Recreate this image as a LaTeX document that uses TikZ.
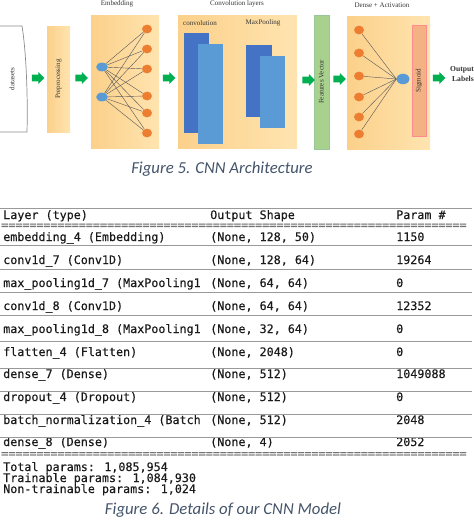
\documentclass[tikz,border=0pt]{standalone}
\usepackage{fontspec}
\setmainfont{Liberation Serif}
\setmonofont{DejaVu Sans Mono}
\newfontfamily\capfont{Carlito}
\newfontfamily\tabfont[RawFeature={embolden=0.35}]{DejaVu Sans Mono}
\usetikzlibrary{shapes.geometric,shapes.arrows}

\definecolor{boxOrange}{HTML}{FBD08A}
\definecolor{boxLight}{HTML}{FFE4B0}
\definecolor{nodeBlue}{HTML}{5B9BD5}
\definecolor{nodeOrange}{HTML}{ED7D31}
\definecolor{convDark}{HTML}{4472C4}
\definecolor{convLight}{HTML}{5B9BD5}
\definecolor{arrowGreen}{HTML}{00B050}
\definecolor{featGreen}{HTML}{A9D18E}
\definecolor{sigFill}{HTML}{F4B183}
\definecolor{capGray}{HTML}{44546A}
\definecolor{tabText}{HTML}{1A1A1A}

\begin{document}
\begin{tikzpicture}[
    x=0.03cm, y=-0.03cm, every node/.style={font=\fontsize{6}{7}\selectfont, inner sep=0pt, text=black!80},
    layerBox/.style={draw=none, left color=boxOrange, right color=boxLight},
    inNode/.style={ellipse, fill=nodeBlue, minimum width=10pt, minimum height=7.5pt},
    outNode/.style={ellipse, fill=nodeOrange, minimum width=8.5pt, minimum height=7.5pt},
    link/.style={draw=black!65, line width=0.35pt},
    convDarkBox/.style={fill=convDark, draw=none},
    convLightBox/.style={fill=convLight, draw=none},
    greenArrow/.style={single arrow, fill=arrowGreen, draw=none, inner sep=2.6pt, minimum height=10.5pt, single arrow head extend=2.3pt},
    tabRow/.style={anchor=base west, font=\tabfont\fontsize{10}{12}\selectfont, text=tabText, text height=7pt, text depth=1.6pt},
    eqRow/.style={anchor=base west, font=\tabfont\fontsize{10}{12}\selectfont, text=black!55, text height=5pt, text depth=0pt},
    tabLine/.style={draw=black!40, line width=0.8pt},
    capStyle/.style={font=\capfont\itshape\fontsize{14.3}{17}\selectfont, text=capGray}
]
    \useasboundingbox (0,0) rectangle (474,522);

    % figure 5: architecture
    \draw[fill=white, draw=black!45, line width=0.6pt] (0,26) -- (22,26) .. controls (26,50) and (28,95) .. (27,132) -- (0,132);
    \node[rotate=90] (data) at (12,79) {datasets};
    \draw[layerBox] (47,26) rectangle (70,132) node[pos=.5, rotate=90] (prep) {Preprocessing};

    \draw[layerBox] (91,15) rectangle (159,148) node[pos=.5] (embBox) {};
    \node (embLbl) at (117,4) {Embedding};
    \node[inNode] (eIn1) at (102,67) {};
    \node[inNode] (eIn2) at (102,97) {};
    \foreach \i/\y in {1/29, 2/49, 3/69, 4/96, 5/113, 6/133} {
        \node[outNode] (eOut\i) at (147,\y) {};
        \draw[link] (eIn1) -- (eOut\i);
        \draw[link] (eIn2) -- (eOut\i);
    }

    \draw[layerBox] (178,15) rectangle (297,148) node[pos=.5] (convBox) {};
    \node (convLbl) at (237,4) {Convolution layers};
    \node (convTxt) at (200,23) {convolution};
    \node (poolTxt) at (263,23) {MaxPooling};
    \draw[convDarkBox] (184,33) rectangle (209,133) node[pos=.5] (conv1) {};
    \draw[convLightBox] (198,44) rectangle (223,144) node[pos=.5] (conv2) {};
    \draw[convDarkBox] (246,45) rectangle (272,117) node[pos=.5] (pool1) {};
    \draw[convLightBox] (260,56) rectangle (285,128) node[pos=.5] (pool2) {};

    \draw[fill=featGreen, draw=green!45!black!40] (314,15) rectangle (329,149) node[pos=.5, rotate=90] (feat) {Features Vector};

    \draw[layerBox] (347,16) rectangle (430,149) node[pos=.5] (denseBox) {};
    \node (denseLbl) at (382,5) {Dense + Activation};
    \node[inNode, minimum width=11pt, minimum height=9pt] (dOut) at (403,79) {};
    \foreach \i/\y in {1/30, 2/53, 3/76, 4/97, 5/117, 6/134} {
        \node[outNode] (dIn\i) at (359,\y) {};
        \draw[link] (dIn\i) -- (dOut.west);
    }
    \draw[fill=sigFill, draw=red!45] (412,25) rectangle (426,136) node[pos=.5, rotate=90] (sig) {Sigmoid};
    \node[anchor=west, align=left, font=\bfseries\fontsize{6.5}{8}\selectfont] (outLbl) at (450,74) {Output\\\ Labels};

    \foreach \x/\y [count=\k] in {36.5/78, 80/78, 167.5/78, 307/80, 338/79, 437.5/78}
        \node[greenArrow] (arr\k) at (\x,\y) {};

    \node[capStyle] (cap5) at (222,169) {Figure 5. CNN Architecture};

    % figure 6: model summary
    \draw[tabLine] (0,208) -- (472,208);
    \node[tabRow] (hName) at (3,219) {Layer (type)};
    \node[tabRow] (hShape) at (210,219) {Output Shape};
    \node[tabRow] (hParam) at (396,219) {Param \#};
    \node[eqRow] (eqTop) at (1,229) {==================================================================};
    \foreach \n/\s/\p/\y [count=\k] in {
        {embedding\_4 (Embedding)}/{(None, 128, 50)}/1150/241,
        {conv1d\_7 (Conv1D)}/{(None, 128, 64)}/19264/264,
        {max\_pooling1d\_7 (MaxPooling1}/{(None, 64, 64)}/0/287,
        {conv1d\_8 (Conv1D)}/{(None, 64, 64)}/12352/310,
        {max\_pooling1d\_8 (MaxPooling1}/{(None, 32, 64)}/0/333,
        {flatten\_4 (Flatten)}/{(None, 2048)}/0/356,
        {dense\_7 (Dense)}/{(None, 512)}/1049088/378,
        {dropout\_4 (Dropout)}/{(None, 512)}/0/401,
        {batch\_normalization\_4 (Batch}/{(None, 512)}/2048/424,
        {dense\_8 (Dense)}/{(None, 4)}/2052/446} {
        \node[tabRow] (rName\k) at (3,\y) {\n};
        \node[tabRow] (rShape\k) at (210,\y) {\s};
        \node[tabRow] (rParam\k) at (396,\y) {\p};
    }
    \foreach \y in {245, 269, 292, 315, 341, 368, 391, 414, 437}
        \draw[tabLine] (0,\y) -- (472,\y);
    \node[eqRow] (eqBot) at (1,457.5) {==================================================================};
    \node[tabRow] (total) at (3,471) {Total params: 1,085,954};
    \node[tabRow] (train) at (3,482) {Trainable params: 1,084,930};
    \node[tabRow] (nonTrain) at (3,493) {Non-trainable params: 1,024};

    \node[capStyle] (cap6) at (223,510) {Figure 6. Details of our CNN Model};
\end{tikzpicture}
\end{document}
